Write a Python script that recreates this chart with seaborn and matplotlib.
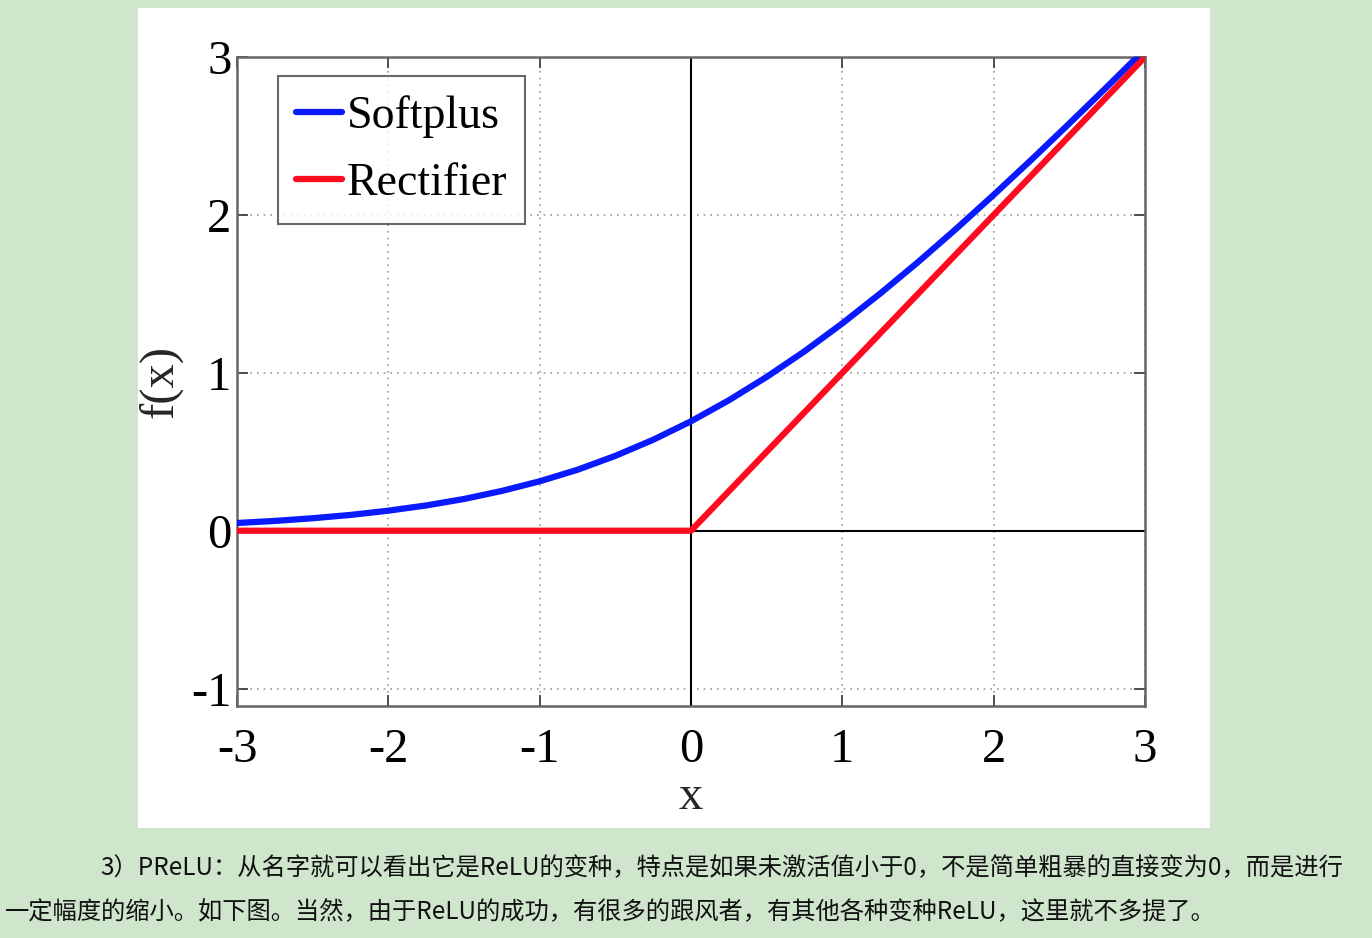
import numpy as np
import pandas as pd
import matplotlib
matplotlib.use("Agg")
import matplotlib.pyplot as plt
import seaborn as sns
from matplotlib.patches import Rectangle

# values
x_vals = [-3.0, -2.75, -2.5, -2.25, -2.0, -1.75, -1.5, -1.25, -1.0, -0.75, -0.5, -0.25, 0.0,
          0.25, 0.5, 0.75, 1.0, 1.25, 1.5, 1.75, 2.0, 2.25, 2.5, 2.75, 3.0]
softplus_vals = [0.049, 0.062, 0.079, 0.100, 0.127, 0.160, 0.201, 0.252, 0.313, 0.386, 0.474,
                 0.576, 0.693, 0.826, 0.974, 1.136, 1.313, 1.502, 1.701, 1.910, 2.127, 2.350,
                 2.579, 2.812, 3.049]
rect_x = [-3.0, 0.0, 3.0]
rect_vals = [0.0, 0.0, 3.0]
x_ticks = [-3, -2, -1, 0, 1, 2, 3]
y_ticks = [-1, 0, 1, 2, 3]
tick_text_x = ["-3", "-2", "-1", "0", "1", "2", "3"]
tick_text_y = ["-1", "0", "1", "2", "3"]
caption_1 = "3）PReLU：从名字就可以看出它是ReLU的变种，特点是如果未激活值小于0，不是简单粗暴的直接变为0，而是进行"
caption_2 = "一定幅度的缩小。如下图。当然，由于ReLU的成功，有很多的跟风者，有其他各种变种ReLU，这里就不多提了。"

sns.set_style("white")
plt.rcParams['font.family'] = ['Liberation Serif', 'DejaVu Serif']
plt.rcParams['text.color'] = 'black'

fig = plt.figure(figsize=(13.72, 9.38), dpi=100)
fig.patch.set_facecolor("#cfe6cd")
fig.add_artist(Rectangle((138 / 1372, 1 - 828 / 938), (1210 - 138) / 1372, (828 - 8) / 938,
                         transform=fig.transFigure, facecolor="white", edgecolor="none", zorder=0))

ax = fig.add_axes([237 / 1372, 1 - 706 / 938, (1145 - 237) / 1372, (706 - 57) / 938])
ax.set_facecolor("white")

smooth = pd.DataFrame({"x": x_vals, "y": softplus_vals})
relu = pd.DataFrame({"x": rect_x, "y": rect_vals})

ax.axhline(0, color="black", lw=1.5, zorder=1)
ax.axvline(0, color="black", lw=1.5, zorder=1)
sns.lineplot(data=smooth, x="x", y="y", ax=ax, color="#0a1aff", lw=4.5, label="Softplus", zorder=3)
sns.lineplot(data=relu, x="x", y="y", ax=ax, color="#ff0a1e", lw=4.5, label="Rectifier", zorder=3)

ax.set_xlim(-3, 3)
ax.set_ylim(-1.11, 3)
ax.set_xticks(x_ticks, tick_text_x)
ax.set_yticks(y_ticks, tick_text_y)
ax.grid(True, linestyle=(0, (1, 3)), color="#999999", lw=1.2)
ax.tick_params(direction="in", length=8, width=1.2, colors="#333333", labelcolor="black",
               labelsize=35, top=True, right=True, bottom=True, left=True)
ax.tick_params(axis="x", pad=16)
ax.tick_params(axis="y", pad=4)
for s in ax.spines.values():
    s.set_color("#666666")
    s.set_linewidth(1.8)
ax.set_xlabel("x", fontsize=35, labelpad=2)
ax.set_ylabel("f(x)", fontsize=35, labelpad=6)

leg = ax.legend(loc="upper left", bbox_to_anchor=(0.045, 0.97), fontsize=33, frameon=True,
                fancybox=False, edgecolor="#444444", handlelength=1.0, handletextpad=0.1,
                borderpad=0.4, labelspacing=0.55, borderaxespad=0)
leg.get_frame().set_linewidth(1.5)
for t in leg.get_texts():
    t.set_color("black")

fig.text(100 / 1372, 1 - 868 / 938, caption_1, fontsize=17.5, va="center", ha="left",
         family=["Noto Sans CJK SC", "DejaVu Sans"], color="#111111")
fig.text(5 / 1372, 1 - 912 / 938, caption_2, fontsize=17.5, va="center", ha="left",
         family=["Noto Sans CJK SC", "DejaVu Sans"], color="#111111")

fig.savefig("out.png", dpi=100, facecolor=fig.get_facecolor())
